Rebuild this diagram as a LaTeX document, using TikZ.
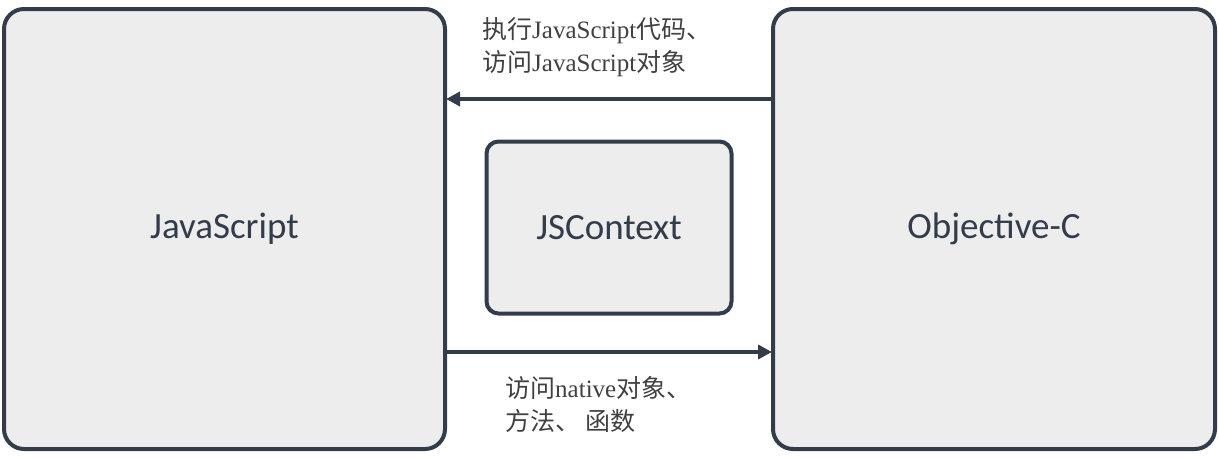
\documentclass[tikz,border=0pt]{standalone}
\usepackage{fontspec}
\setmainfont{Liberation Serif}
\newfontfamily\cjk{Noto Sans CJK SC}
\newfontfamily\boxfont{Carlito}
\usetikzlibrary{arrows.meta}
\definecolor{edge}{HTML}{333C4A}
\definecolor{boxfill}{HTML}{EDEDED}
\definecolor{txt}{HTML}{404040}
\tikzset{
  panel/.style={draw=edge, line width=4pt, fill=boxfill, rounded corners=20pt, inner sep=0pt},
  flow/.style={draw=edge, line width=4pt, -{Triangle[length=14pt,width=14pt]}},
  lbl/.style={font=\fontsize{37}{40}\selectfont\boxfont, text=edge},
  note/.style={font=\fontsize{25}{33}\selectfont, text=txt, align=left, anchor=north west, inner sep=0pt}
}
\begin{document}
\begin{tikzpicture}[x=1pt,y=-1pt]
\useasboundingbox (0,0) rectangle (1219,458);
\node[panel, minimum width=441pt, minimum height=440pt] (js) at (224.5,229) {};
\node[lbl] at (js.center) {JavaScript};
\node[panel, minimum width=442pt, minimum height=440pt] (oc) at (994,229) {};
\node[lbl] at (oc.center) {Objective-C};
\node[panel, minimum width=245pt, minimum height=172pt, rounded corners=12pt] (ctx) at (609,227.5) {};
\node[lbl] at (ctx.center) {JSContext};
\coordinate (t1) at (772,99); \coordinate (t2) at (446,99);
\coordinate (b1) at (446,352); \coordinate (b2) at (772,352);
\draw[flow] (t1) -- (t2);
\draw[flow] (b1) -- (b2);
\node[note] (n1) at (482,17) {{\cjk 执行}JavaScript{\cjk 代码、}\\{\cjk 访问}JavaScript{\cjk 对象}};
\node[note] (n2) at (505,376) {{\cjk 访问}native{\cjk 对象、}\\{\cjk 方法、 函数}};
\end{tikzpicture}
\end{document}
